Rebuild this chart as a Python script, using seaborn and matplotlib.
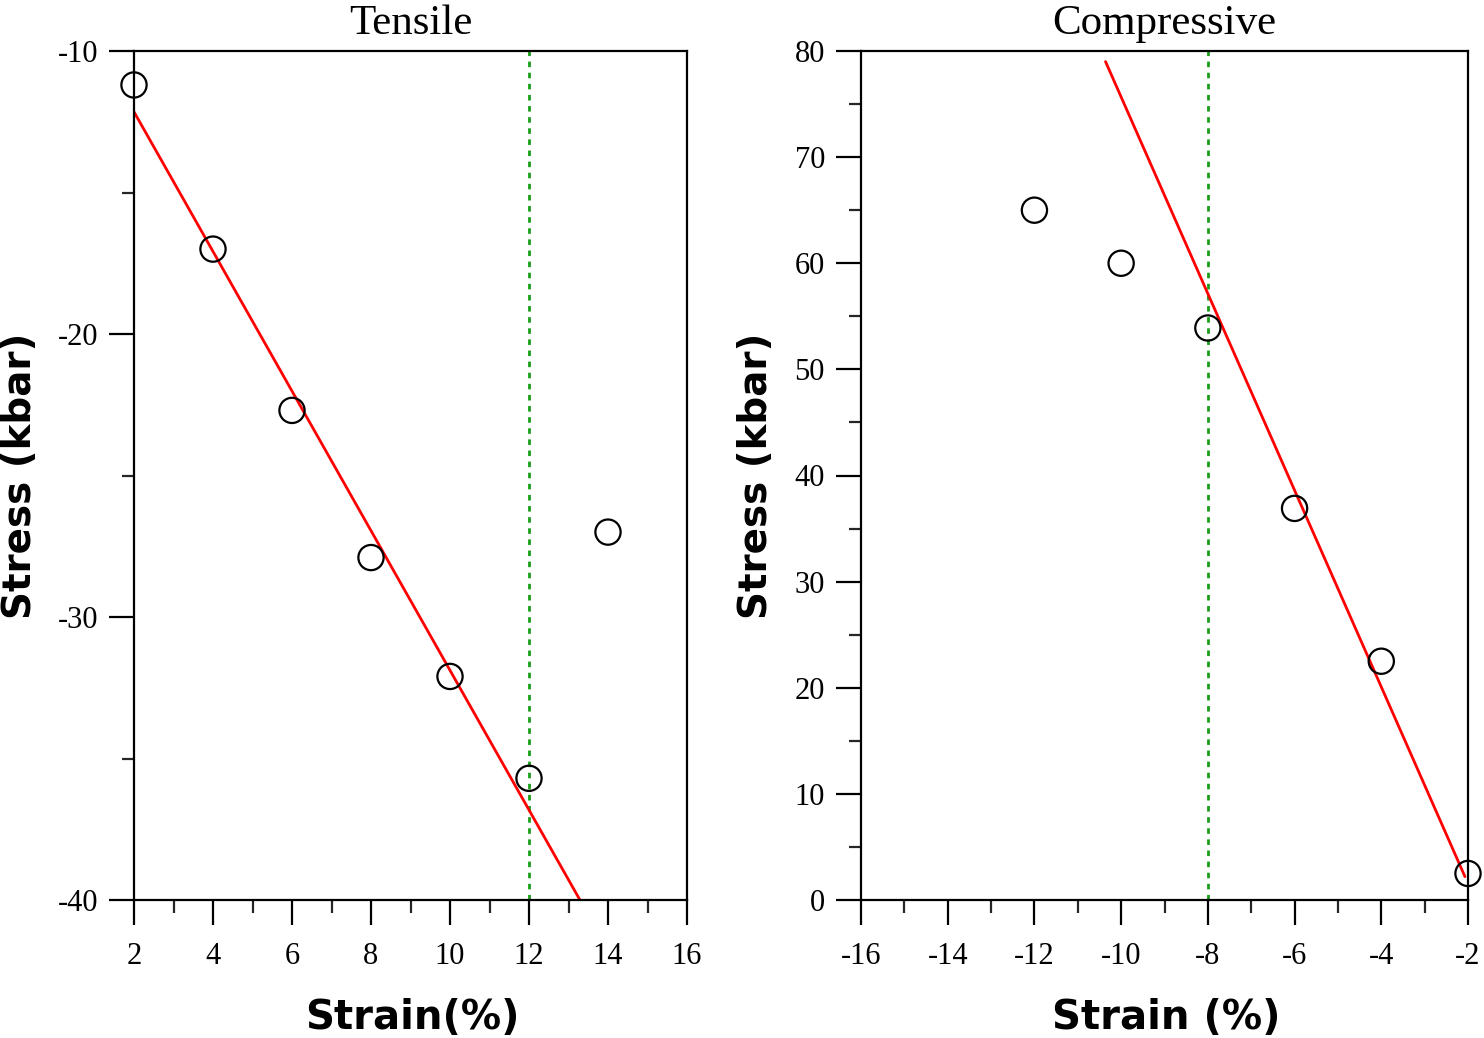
import numpy as np
import pandas as pd
import matplotlib
matplotlib.use("Agg")
import matplotlib.pyplot as plt
from matplotlib.ticker import MultipleLocator
import seaborn as sns

# ---- data ----
tensile_strain = [2, 4, 6, 8, 10, 12, 14]
tensile_stress = [-11.2, -17.0, -22.7, -27.9, -32.1, -35.7, -27.0]
tensile_fit_strain = [2.0, 13.29]
tensile_fit_stress = [-12.15, -40.0]
tensile_mark = 12

comp_strain = [-12, -10, -8, -6, -4, -2]
comp_stress = [65.0, 60.0, 53.9, 36.9, 22.5, 2.5]
comp_fit_strain = [-10.36, -2.07]
comp_fit_stress = [79.0, 2.2]
comp_mark = -8

titles = ["Tensile", "Compressive"]
xlabels = ["Strain(%)", "Strain (%)"]
ylabel = "Stress (kbar)"

sns.set_style("white")
plt.rcParams["font.family"] = ["Liberation Serif", "DejaVu Serif"]
plt.rcParams["axes.unicode_minus"] = False
plt.rcParams["text.color"] = "black"
plt.rcParams["axes.labelcolor"] = "black"

fig = plt.figure(figsize=(14.84, 10.38), dpi=100)
W, H = 1484, 1038
ax1 = fig.add_axes([134 / W, 1 - 900 / H, (687 - 134) / W, (900 - 51) / H])
ax2 = fig.add_axes([861 / W, 1 - 900 / H, (1468 - 861) / W, (900 - 51) / H])

panels = [
    (ax1, tensile_strain, tensile_stress, tensile_fit_strain, tensile_fit_stress,
     tensile_mark, (2, 16), (-40, -10), 10, 5, -0.172),
    (ax2, comp_strain, comp_stress, comp_fit_strain, comp_fit_stress,
     comp_mark, (-16, -2), (0, 80), 10, 5, -0.141),
]

for i, (ax, xs, ys, fx, fy, mark, xl, yl, ymaj, ymin, ylabx) in enumerate(panels):
    ax.axvline(mark, color="#1a9e1a", lw=2.0, linestyle=(0, (2.0, 2.0)), zorder=1)
    sns.lineplot(x=fx, y=fy, ax=ax, color="#ff0000", lw=2.0, zorder=2)
    sns.scatterplot(x=xs, y=ys, ax=ax, marker="o", s=330, facecolor="none",
                    edgecolor="black", linewidth=1.6, zorder=3, clip_on=False)
    ax.set_xlim(*xl)
    ax.set_ylim(*yl)
    ax.xaxis.set_major_locator(MultipleLocator(2))
    ax.xaxis.set_minor_locator(MultipleLocator(1))
    ax.yaxis.set_major_locator(MultipleLocator(ymaj))
    ax.yaxis.set_minor_locator(MultipleLocator(ymin))
    for sp in ax.spines.values():
        sp.set_linewidth(1.6)
        sp.set_color("black")
    ax.tick_params(which="major", direction="out", length=18, width=1.6,
                   labelsize=22, colors="black", bottom=True, left=True,
                   top=False, right=False)
    ax.tick_params(which="minor", direction="out", length=9, width=1.6,
                   bottom=True, left=True, top=False, right=False)
    ax.tick_params(axis="x", which="major", pad=12)
    ax.tick_params(axis="y", which="major", pad=8)
    ax.set_title(titles[i], fontsize=31, pad=12, color="black",
                 fontfamily="Liberation Serif")
    ax.set_xlabel(xlabels[i], fontsize=29, fontweight="bold", color="black",
                  fontfamily="DejaVu Sans")
    ax.set_ylabel(ylabel, fontsize=28, fontweight="bold", color="black",
                  fontfamily="DejaVu Sans")
    ax.xaxis.set_label_coords(0.503, -0.115)
    ax.yaxis.set_label_coords(ylabx, 0.5)
    leg = ax.get_legend()
    if leg:
        leg.remove()

fig.savefig("out.png", dpi=100, facecolor="white")
